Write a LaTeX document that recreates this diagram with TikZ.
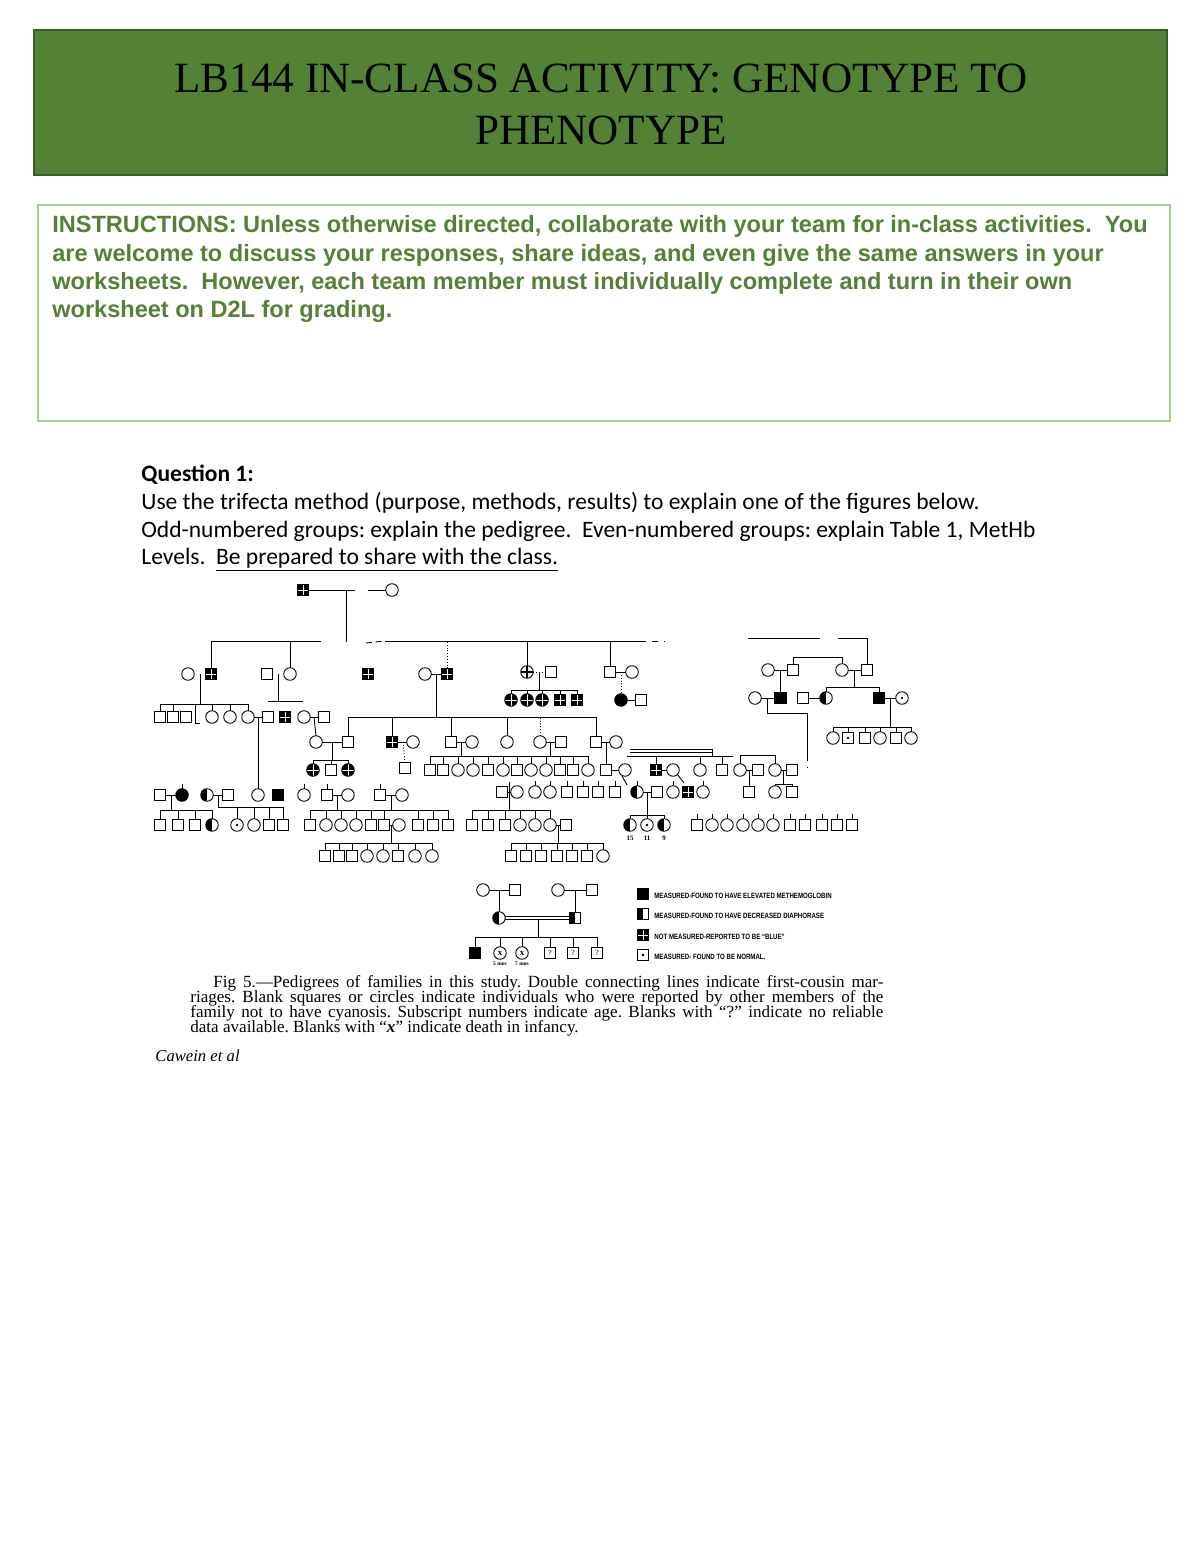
\documentclass[tikz,border=0pt]{standalone}
\usepackage{fontspec}
\setmainfont{Liberation Serif}
\newfontfamily\arialfont{Liberation Sans}
\newfontfamily\calfont{Carlito}
\newfontfamily\legfont[FakeStretch=0.8]{Liberation Sans}
\usetikzlibrary{calc}
\definecolor{hdrgreen}{HTML}{548235}
\definecolor{hdrdark}{HTML}{3A5A26}
\definecolor{insgreen}{HTML}{538135}
\definecolor{insbox}{HTML}{A9D18E}
\frenchspacing
\tikzset{
 ind/.style={draw=black, line width=0.45pt, inner sep=0pt, outer sep=0pt, fill=white},
 sq/.style={ind, rectangle, minimum size=5.8pt},
 ci/.style={ind, circle, minimum size=6.4pt},
 aff/.style={fill=black},
 half/.style={path picture={\fill[black] (path picture bounding box.south west) rectangle (path picture bounding box.north);}},
 blue/.style={fill=black, path picture={\draw[white, line width=0.5pt] (path picture bounding box.north) -- (path picture bounding box.south) (path picture bounding box.west) -- (path picture bounding box.east);}},
 ocross/.style={path picture={\draw[black, line width=0.6pt] (path picture bounding box.north) -- (path picture bounding box.south) (path picture bounding box.west) -- (path picture bounding box.east);}},
 nrm/.style={path picture={\fill[black] (path picture bounding box.center) circle[radius=0.7pt];}},
 xin/.style={path picture={\node[font=\fontsize{4.5}{4.5}\selectfont\bfseries] at (path picture bounding box.center) {x};}},
 qin/.style={path picture={\node[font=\fontsize{4}{4}\selectfont] at (path picture bounding box.center) {?};}},
 ped/.style={line width=0.45pt},
 legtext/.style={anchor=west, inner sep=0pt, font=\legfont\bfseries\fontsize{3.9}{4}\selectfont},
 agetext/.style={inner sep=0pt, font=\fontsize{3.5}{4}\selectfont\bfseries},
 instr/.style={anchor=base west, inner sep=0pt, text=insgreen, font=\arialfont\bfseries\fontsize{12}{14}\selectfont},
 quest/.style={anchor=base west, inner sep=0pt, font=\calfont\fontsize{12}{14}\selectfont},
 capt/.style={anchor=base west, inner sep=0pt, font=\fontsize{8.7}{9}\selectfont},
}
\newcommand\pn[4]{\node[#1] (#2) at (#3,#4) {};}
\newcommand\stub[1]{\draw[ped] (#1.north) -- ++(0,-5);}
\newcommand\drop[2]{\draw[ped] (#1.north) -- (#1.north |- 0,#2);}
\newcommand\cpl[2]{\draw[ped] (#1) -- (#2);}
\newcommand\desc[3]{\coordinate (tmpd) at ($(#1)!0.5!(#2)$); \draw[ped] (tmpd) -- (tmpd |- 0,#3);}
\newcommand\sib[4]{\draw[ped] (#1.north |- 0,#3) -- (#2.north |- 0,#3); \foreach \c in {#4}{\drop{\c}{#3}}}
\begin{document}
\begin{tikzpicture}[x=0.51pt,y=-0.51pt]
\useasboundingbox (0,0) rectangle (1200,1553);
\fill[white] (0,0) rectangle (1200,1553);
% header
\draw[line width=1.5pt, draw=hdrdark, fill=hdrgreen] (34,30) rectangle (1167,175);
\node[anchor=base, inner sep=0pt, font=\fontsize{22}{26}\selectfont] (t1) at (601,93) {LB144 IN-CLASS ACTIVITY: GENOTYPE TO};
\node[anchor=base, inner sep=0pt, font=\fontsize{22}{26}\selectfont] (t2) at (601,145) {PHENOTYPE};
% instructions
\draw[line width=1pt, draw=insbox] (38,205) rectangle (1170,421);
\node[instr] (i1) at (52,233) {INSTRUCTIONS: Unless otherwise directed, collaborate with your team for in-class activities.\ \ You};
\node[instr] (i2) at (52,261) {are welcome to discuss your responses, share ideas, and even give the same answers in your};
\node[instr] (i3) at (52,289) {worksheets.\ \ However, each team member must individually complete and turn in their own};
\node[instr] (i4) at (52,317) {worksheet on D2L for grading.};
% question
\node[quest] (q1) at (141,481) {\bfseries Question 1:};
\node[quest] (q2) at (141,509) {Use the trifecta method (purpose, methods, results) to explain one of the figures below.};
\node[quest] (q3) at (141,537) {Odd-numbered groups: explain the pedigree.\ \ Even-numbered groups: explain Table 1, MetHb};
\node[quest] (q4) at (141,564) {Levels.\ \ \underline{Be prepared to share with the class.}};
% ===== pedigree =====
% Gen I
\pn{sq,blue}{a1}{303}{590} \pn{ci}{a2}{392}{590}
\coordinate (a1r) at (355,590); \coordinate (a2l) at (368,590);
\draw[ped] (a1) -- (a1r); \draw[ped] (a2l) -- (a2);
\coordinate (a0) at (346,590); \coordinate (a0d) at (346,642);
\draw[ped] (a0) -- (a0d);
% Gen II sibship
\draw[ped] (211,641) -- (321,641);
\draw[ped,densely dashed] (366,643) -- (385,641);
\draw[ped] (385,641) -- (640,641);
\draw[ped,dashed] (640,641) -- (664,641);
% Gen II
\pn{ci}{b1}{188}{674} \pn{sq,blue}{b2}{211}{674}
\drop{b2}{641}
\draw[ped] (200,674) -- (200,704);
\pn{sq}{b3}{267}{674} \pn{ci}{b4}{290}{674}
\drop{b4}{641}
\draw[ped] (278,674) -- (278,701); \draw[ped] (268,701) -- (303,701);
\pn{sq,blue}{b5}{368}{674}
\pn{ci}{b6}{425}{674} \pn{sq,blue}{b7}{447}{674}
\cpl{b6}{b7}
\draw[ped,densely dotted] (b7.north) -- (b7.north |- 0,641);
\pn{ci,ocross}{b8}{527}{672} \pn{sq}{b9}{551}{672}
\draw[ped,densely dotted] (b8) -- (b9);
\drop{b8}{641}
\pn{sq}{b10}{610}{672} \pn{ci}{b11}{632}{672}
\cpl{b10}{b11}
\drop{b10}{641}
% children of b8-b9
\pn{ci,blue}{c1}{511}{700} \pn{ci,blue}{c2}{527}{700} \pn{ci,blue}{c3}{542}{700} \pn{sq,blue}{c4}{560}{700} \pn{sq,blue}{c5}{577}{700}
\desc{b8}{b9}{690}
\sib{c1}{c5}{690}{c1,c2,c3,c4,c5}
% children of b10-b11
\pn{ci,aff}{c6}{621}{700} \pn{sq}{c7}{641}{700}
\cpl{c6}{c7}
\draw[ped,densely dotted] (621,672) -- (c6.north);
% Gen III left
\pn{sq}{d1}{160}{717} \pn{sq}{d2}{173}{717} \pn{sq}{d3}{186}{717}
\draw[ped] (195,710) -- (195,723) -- (200,723);
\pn{ci}{d4}{212}{717} \pn{ci}{d5}{230}{717} \pn{ci}{d6}{248}{717} \pn{sq}{d7}{268}{717}
\pn{sq,blue}{d8}{285}{717} \pn{ci}{d9}{304}{717} \pn{sq}{d10}{324}{717}
\sib{d1}{d6}{704}{d1,d2,d4,d5,d6}
\draw[ped] (195,704) -- (195,710);
\cpl{d6}{d7} \cpl{d9}{d10}
\pn{ci}{e5}{258}{795}
\draw[ped] (258,717) -- (e5.north);
% middle family
\draw[ped] (436,674) -- (436,717);
\pn{ci}{f1}{316}{742} \pn{sq}{f2}{348}{742}
\pn{sq,blue}{f3}{392}{742} \pn{ci}{f4}{413}{742}
\pn{sq}{f5}{451}{742} \pn{ci}{f6}{472}{742}
\pn{ci}{f7}{507}{742}
\pn{ci}{f8}{540}{742} \pn{sq}{f9}{561}{742}
\pn{sq}{f10}{596}{742} \pn{ci}{f11}{616}{742}
\draw[ped] (f2.north |- 0,717) -- (f10.north |- 0,717);
\drop{f2}{717} \drop{f3}{717} \drop{f5}{717} \drop{f7}{717} \drop{f10}{717}
\draw[ped,densely dotted] (f8.north) -- (f8.north |- 0,717);
\cpl{f1}{f2} \cpl{f3}{f4} \cpl{f5}{f6} \cpl{f8}{f9} \cpl{f10}{f11}
\draw[ped] (314,717) -- (f1.north);
% children of f1-f2
\pn{ci,blue}{g1}{313}{770} \pn{sq}{g2}{331}{770} \pn{ci,blue}{g3}{348}{770}
\desc{f1}{f2}{760}
\sib{g1}{g3}{760}{g1,g2,g3}
% child of f3-f4
\pn{sq}{g4}{405}{768}
\draw[ped,densely dotted] (403,742) -- (g4.north);
% children of f5-f6
\pn{sq}{g5}{430}{770} \pn{sq}{g6}{443}{770} \pn{ci}{g7}{458}{770} \pn{ci}{g8}{473}{770}
\pn{sq}{g9}{488}{770} \pn{ci}{g10}{503}{770} \pn{sq}{g11}{517}{770} \pn{ci}{g12}{531}{770}
\pn{ci}{g13}{546}{770} \pn{sq}{g14}{560}{770} \pn{sq}{g15}{573}{770} \pn{ci}{g16}{588}{770}
\desc{f5}{f6}{756}
\sib{g5}{g16}{756}{g5,g6,g7,g8,g9,g10,g11,g12,g13,g14,g15,g16}
\desc{f8}{f9}{756}
% f10-f11 child
\pn{sq}{g17}{606}{770} \pn{ci}{g18}{625}{770}
\desc{f10}{f11}{764}
\cpl{g17}{g18}
\draw[ped] (622,776) -- (627,785);
% double lines
\draw[ped] (630,749) -- (712,749);
\draw[ped] (630,752.5) -- (712,752.5);
\draw[ped] (712,749) -- (712,756);
\pn{sq,blue}{g19}{656}{770} \pn{ci}{g20}{673}{770} \pn{ci}{g21}{700}{770} \pn{sq}{g22}{722}{770}
\draw[ped] (627,756) -- (733,756);
\drop{g19}{756} \drop{g21}{756} \drop{g22}{756}
\cpl{g19}{g20}
\draw[ped] (g20.south east) -- (684,783);
\pn{ci}{g23}{740}{770} \pn{sq}{g24}{758}{770} \pn{ci}{g25}{775}{770} \pn{sq}{g26}{792}{770}
\draw[ped] (g23.north |- 0,755) -- (g25.north |- 0,755);
\drop{g23}{755} \drop{g25}{755}
\cpl{g23}{g24} \cpl{g25}{g26}
\pn{sq}{h20}{749}{792}
\draw[ped] (749,770) -- (h20.north);
\pn{ci}{h21}{775}{792} \pn{sq}{h22}{792}{792}
\desc{g25}{g26}{784}
\sib{h21}{h22}{784}{h21,h22}
% long vertical
\draw[ped] (767,698) -- (767,713) -- (807,713) -- (807,755);
\draw[ped,dashed] (807,755) -- (807,767);
% row 792 middle
\pn{sq}{h1}{502}{792} \pn{ci}{h2}{517}{792} \pn{ci}{h3}{535}{792} \pn{ci}{h4}{550}{792}
\pn{sq}{h5}{567}{792} \pn{sq}{h6}{583}{792} \pn{sq}{h7}{598}{792} \pn{sq}{h8}{615}{792}
\cpl{h1}{h2}
\draw[ped] (509,782) -- (509,810);
\stub{h3} \stub{h4} \stub{h5} \stub{h6} \stub{h7} \stub{h8}
\pn{ci,half}{h9}{637}{792} \pn{sq}{h10}{657}{792}
\cpl{h9}{h10} \stub{h9}
\pn{ci}{h11}{673}{792} \pn{sq,blue}{h12}{688}{792} \pn{ci}{h13}{703}{792}
\stub{h11} \stub{h13}
% row 795 left
\pn{sq}{e1}{160}{795} \pn{ci,aff}{e2}{182}{795} \pn{ci,half}{e3}{207}{795} \pn{sq}{e4}{228}{795}
\pn{sq,aff}{e6}{278}{795} \pn{ci}{e7}{304}{795} \pn{sq}{e8}{327}{795} \pn{ci}{e9}{348}{795}
\pn{sq}{e10}{380}{795} \pn{ci}{e11}{402}{795}
\cpl{e1}{e2} \cpl{e3}{e4} \cpl{e8}{e9} \cpl{e10}{e11}
\stub{e2} \stub{e7} \stub{e8} \stub{e10}
% row 825 left
\pn{sq}{i1}{160}{825} \pn{sq}{i2}{178}{825} \pn{sq}{i3}{195}{825} \pn{ci,half}{i4}{212}{825}
\desc{e1}{e2}{810}
\sib{i1}{i4}{810}{i1,i2,i3,i4}
\pn{ci,nrm}{i5}{237}{825} \pn{ci}{i6}{254}{825} \pn{sq}{i7}{269}{825} \pn{sq}{i8}{283}{825}
\draw[ped] (218,795) -- (218,807) -- (i8.north |- 0,807);
\drop{i5}{807} \drop{i6}{807} \drop{i7}{807} \drop{i8}{807}
\pn{sq}{i9}{310}{825} \pn{ci}{i10}{326}{825} \pn{ci}{i11}{341}{825} \pn{ci}{i12}{356}{825}
\pn{sq}{i13}{371}{825} \pn{sq}{i14}{384}{825} \pn{ci}{i15}{399}{825}
\pn{sq}{i16}{418}{825} \pn{sq}{i17}{433}{825} \pn{sq}{i18}{448}{825}
\desc{e8}{e9}{810} \desc{e10}{e11}{810}
\sib{i9}{i18}{810}{i9,i10,i11,i12,i13,i14,i16,i17,i18}
\cpl{i14}{i15}
\pn{sq}{j1}{325}{856} \pn{sq}{j2}{339}{856} \pn{sq}{j3}{352}{856} \pn{ci}{j4}{367}{856}
\pn{ci}{j5}{383}{856} \pn{sq}{j6}{398}{856} \pn{ci}{j7}{415}{856} \pn{ci}{j8}{432}{856}
\desc{i14}{i15}{843}
\sib{j1}{j8}{843}{j1,j2,j3,j4,j5,j6,j7,j8}
% row 825 middle
\pn{sq}{i19}{472}{825} \pn{sq}{i20}{488}{825} \pn{sq}{i21}{505}{825} \pn{ci}{i22}{520}{825}
\pn{ci}{i23}{535}{825} \pn{ci}{i24}{550}{825} \pn{sq}{i25}{566}{825}
\sib{i19}{i24}{810}{i19,i20,i21,i22,i23,i24}
\cpl{i24}{i25}
\pn{sq}{j9}{511}{856} \pn{sq}{j10}{526}{856} \pn{sq}{j11}{541}{856} \pn{sq}{j12}{557}{856}
\pn{sq}{j13}{572}{856} \pn{sq}{j14}{587}{856} \pn{ci}{j15}{603}{856}
\desc{i24}{i25}{843}
\sib{j9}{j15}{843}{j9,j10,j11,j12,j13,j14,j15}
% affected sibship
\pn{ci,half}{i26}{630}{825} \pn{ci,nrm}{i27}{647}{825} \pn{ci,half}{i28}{664}{825}
\desc{h9}{h10}{815}
\sib{i26}{i28}{815}{i26,i27,i28}
\node[agetext] (ag1) at (630,838) {15};
\node[agetext] (ag2) at (647,838) {11};
\node[agetext] (ag3) at (664,838) {9};
% right row 825
\pn{sq}{i29}{697}{825} \pn{ci}{i30}{712}{825} \pn{ci}{i31}{727}{825} \pn{ci}{i32}{743}{825}
\pn{ci}{i33}{758}{825} \pn{ci}{i34}{773}{825} \pn{sq}{i35}{790}{825} \pn{sq}{i36}{805}{825}
\pn{sq}{i37}{822}{825} \pn{sq}{i38}{837}{825} \pn{sq}{i39}{852}{825}
\foreach \n in {i29,i30,i31,i32,i33,i34,i35,i36,i37,i38,i39}{\stub{\n}}
% right family
\pn{ci}{k1}{768}{670} \pn{sq}{k2}{793}{670} \pn{ci}{k3}{842}{670} \pn{sq}{k4}{867}{670}
\draw[ped] (748,638) -- (820,638);
\draw[ped] (838,638) -- (867,638) -- (k4.north);
\draw[ped] (k2.north) -- (793,657) -- (842,657) -- (k3.north);
\cpl{k1}{k2} \cpl{k3}{k4}
\pn{ci}{k5}{755}{698} \pn{sq,aff}{k6}{780.5}{698} \pn{sq}{k7}{803}{698} \pn{ci,half}{k8}{826}{698}
\pn{sq,aff}{k9}{879}{698} \pn{ci,nrm}{k10}{902}{698}
\draw[ped] (780.5,670) -- (k6.north);
\desc{k3}{k4}{687}
\sib{k8}{k9}{687}{k8,k9}
\cpl{k5}{k6} \cpl{k7}{k8} \cpl{k9}{k10}
\pn{ci}{l1}{833}{738} \pn{sq,nrm}{l2}{848}{738} \pn{sq}{l3}{865}{738} \pn{ci}{l4}{880}{738}
\pn{sq}{l5}{896}{738} \pn{ci}{l6}{911}{738}
\desc{k9}{k10}{727}
\sib{l1}{l6}{727}{l1,l2,l3,l4,l5,l6}
% second pedigree
\pn{ci}{m1}{483}{890} \pn{sq}{m2}{515}{890} \pn{ci}{m3}{558}{890} \pn{sq}{m4}{592}{890}
\cpl{m1}{m2} \cpl{m3}{m4}
\pn{ci,half}{m5}{499}{918} \pn{sq,half}{m6}{575}{918}
\draw[ped] (499,890) -- (m5.north);
\draw[ped] (575,890) -- (m6.north);
\draw[ped] ([yshift=0.9pt]m5.east) -- ([yshift=0.9pt]m6.west);
\draw[ped] ([yshift=-0.9pt]m5.east) -- ([yshift=-0.9pt]m6.west);
\pn{sq,aff}{n1}{475}{953} \pn{ci,xin}{n2}{500}{953} \pn{ci,xin}{n3}{522}{953}
\pn{sq,qin}{n4}{550}{953} \pn{sq,qin}{n5}{573}{953} \pn{sq,qin}{n6}{597}{953}
\draw[ped] (538,920) -- (538,937);
\sib{n1}{n6}{937}{n1,n2,n3,n4,n5,n6}
\node[agetext,font=\fontsize{2.8}{3}\selectfont\bfseries] (ag4) at (500,964) {5 mos};
\node[agetext,font=\fontsize{2.8}{3}\selectfont\bfseries] (ag5) at (522,964) {7 mos};
% legend
\pn{sq,aff}{L1}{643}{894} \pn{sq,half}{L2}{643}{914} \pn{sq,blue}{L3}{643}{935} \pn{sq,nrm}{L4}{643}{955}
\node[legtext] (lt1) at (654,896) {MEASURED-FOUND TO HAVE ELEVATED METHEMOGLOBIN};
\node[legtext] (lt2) at (654,916) {MEASURED-FOUND TO HAVE DECREASED DIAPHORASE};
\node[legtext] (lt3) at (654,937) {NOT MEASURED-REPORTED TO BE “BLUE”};
\node[legtext] (lt4) at (654,957) {MEASURED- FOUND TO BE NORMAL.};
% caption
\node[capt] (c1t) at (213,987) {\makebox[341.7pt][s]{Fig 5.—Pedigrees of families in this study. Double connecting lines indicate first-cousin mar-}};
\node[capt] (c2t) at (190,1002) {\makebox[353.4pt][s]{riages. Blank squares or circles indicate individuals who were reported by other members of the}};
\node[capt] (c3t) at (190,1017) {\makebox[353.4pt][s]{family not to have cyanosis. Subscript numbers indicate age. Blanks with “?” indicate no reliable}};
\node[capt] (c4t) at (190,1032) {data available. Blanks with “\textbf{\textit{x}}” indicate death in infancy.};
\node[capt,font=\itshape\fontsize{8.5}{9}\selectfont] (c5t) at (155,1061) {Cawein et al};
\end{tikzpicture}
\end{document}
